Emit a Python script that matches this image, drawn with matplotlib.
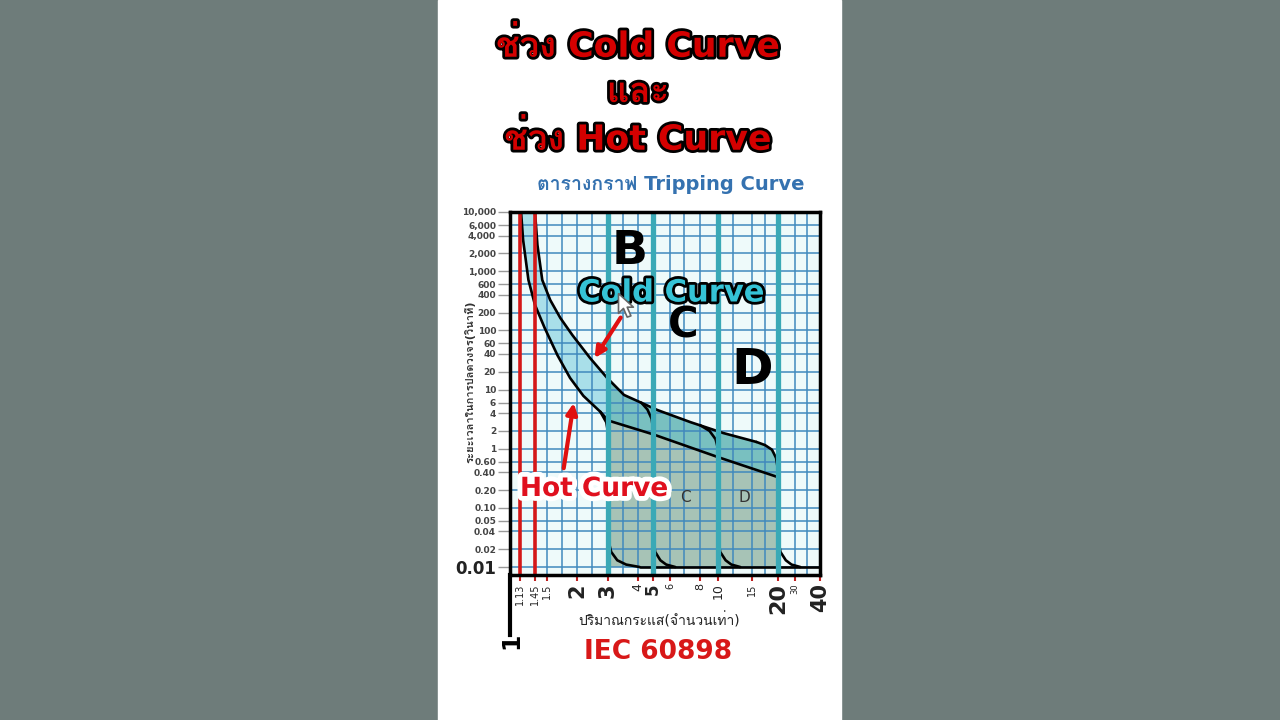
import numpy as np
import matplotlib
matplotlib.use("Agg")
import matplotlib.pyplot as plt
import matplotlib.patheffects as pe
from matplotlib import font_manager, ft2font
from matplotlib.patches import Rectangle
from matplotlib.path import Path

# pick any installed font that has Thai glyphs, used as fallback after DejaVu
thai_font = None
for fe in font_manager.fontManager.ttflist:
    try:
        cmap = ft2font.FT2Font(fe.fname).get_charmap()
    except Exception:
        continue
    if 0x0E0A in cmap and 0x0E27 in cmap and 0x0E48 in cmap:
        thai_font = fe.name
        break
fams = ['DejaVu Sans'] + ([thai_font] if thai_font else [])
plt.rcParams['font.family'] = fams

# ---- data ----
# y axis (trip time, seconds)
y_vals = [10000, 6000, 4000, 2000, 1000, 600, 400, 200, 100, 60, 40, 20, 10,
          6, 4, 2, 1, 0.6, 0.4, 0.2, 0.1, 0.06, 0.04, 0.02, 0.01]
y_labels = ['10,000', '6,000', '4,000', '2,000', '1,000', '600', '400', '200',
            '100', '60', '40', '20', '10', '6', '4', '2', '1', '0.60', '0.40',
            '0.20', '0.10', '0.05', '0.04', '0.02', '0.01']

# x axis (multiple of rated current)
x_vals = [1.13, 1.45, 1.5, 2, 3, 4, 5, 6, 8, 10, 15, 20, 30, 40]
x_labels = ['1.13', '1.45', '1.5', '2', '3', '4', '5', '6', '8', '10', '15',
            '20', '30', '40']
x_thin = [1.5, 1.75, 2, 2.5, 3.5, 4, 6, 7, 8, 12.5, 15, 17.5, 30, 35]
x_thick = [3, 5, 10, 20]
x_red = [1.13, 1.45]

# hot curve (lower) and cold curve (upper)
hot_x = np.array([1.15, 1.19, 1.30, 1.45, 1.49, 1.67, 1.88, 2.2, 2.75, 3.0, 5.0, 10.0, 20.0])
hot_t = np.array([10000, 3365, 710, 268, 110, 38, 15.7, 7.8, 4.2, 3.0, 1.75, 0.72, 0.33])
cold_x = np.array([1.45, 1.46, 1.48, 1.55, 1.72, 1.92, 2.43, 2.97, 3.53, 5.24, 7.4, 10.8, 15.8])
cold_t = np.array([10000, 2770, 710, 326, 162, 83, 34, 15.7, 8.1, 4.5, 2.8, 1.84, 1.3])

# instantaneous drops of B, C, D
dropB_lo_x = [2.75, 2.94, 3.0, 3.0]
dropB_lo_t = [4.2, 2.8, 1.9, 0.03]
dropB_x = [4.2, 4.6, 4.9, 5.0, 5.0]
dropB_t = [6.0, 4.6, 3.2, 2.2, 0.03]
dropC_x = [8.0, 9.0, 9.7, 10.0, 10.0]
dropC_t = [2.5, 2.0, 1.45, 1.0, 0.03]
dropD_x = [15.8, 17.5, 18.8, 19.6, 20.0, 20.0]
dropD_t = [1.3, 1.15, 0.96, 0.70, 0.44, 0.03]

# rounded corners at the bottom
corners_t = [0.03, 0.018, 0.013, 0.011, 0.01]
corner3_x = [3.0, 3.1, 3.3, 3.6, 4.1]
corner5_x = [5.0, 5.12, 5.41, 5.76, 6.36]
corner10_x = [10.0, 10.33, 11.2, 12.2, 13.4]
corner20_x = [20.0, 21.2, 24.1, 27.6, 32.1]

# ---- custom x scale that follows the printed (uneven) paper grid ----
scale_x = [0.5, 1, 1.13, 1.45, 1.5, 1.75, 2, 2.5, 3, 3.5, 4, 5, 6, 7, 8, 10,
           12.5, 15, 17.5, 20, 30, 35, 40, 80]
scale_p = [-60, 0, 10, 25, 37, 52, 67, 82, 98, 113, 128, 143, 160, 174, 190,
           208, 223, 242, 255, 268, 285, 297, 310, 370]
lg = np.log(scale_x)


def fwd(x):
    x = np.asarray(x, dtype=float)
    return np.interp(np.log(np.clip(x, 1e-6, None)), lg, scale_p)


def inv(p):
    return np.exp(np.interp(np.asarray(p, dtype=float), scale_p, lg))


W, H = 1280, 720
fig = plt.figure(figsize=(12.8, 7.2), dpi=100, facecolor='#6e7c7a')
fig.patches.append(Rectangle((438 / W, 0), 403 / W, 1, transform=fig.transFigure,
                             color='white', zorder=-5))


def fx(x):
    return x / W


def fy(y):
    return 1 - y / H


ax_rect = [510 / W, 1 - 575 / H, 310 / W, 363 / H]
ax = fig.add_axes(ax_rect)
ax.set_facecolor('#eefafa')
ax.set_xscale('function', functions=(fwd, inv))
ax.set_yscale('log')
ax.set_xlim(1, 40)
ax.set_ylim(0.00733, 10000)

# fills
m = hot_x <= 3.0
mc = cold_x <= 3.0
ax.fill(np.concatenate([hot_x[m], cold_x[mc][::-1]]),
        np.concatenate([hot_t[m], cold_t[mc][::-1]]),
        color='#a9dfe9', lw=0, zorder=1.5)
mh = hot_x >= 3.0
ax.fill(np.concatenate([[3.0], hot_x[mh], [20, 3.0]]),
        np.concatenate([[hot_t[mh][0]], hot_t[mh], [0.01, 0.01]]),
        color='#a7c3b6', lw=0, zorder=1.5)
mu = cold_x >= 2.97
ax.fill(np.concatenate([cold_x[mu], dropD_x[1:-1], hot_x[mh][::-1]]),
        np.concatenate([cold_t[mu], dropD_t[1:-1], hot_t[mh][::-1]]),
        color='#79c0c0', lw=0, zorder=1.6)

# paper grid
for v in y_vals:
    ax.axhline(v, color='#4089bd', lw=1.1, zorder=2)
for v in x_thin:
    ax.axvline(v, color='#4089bd', lw=1.1, zorder=2)

# curves
kw = dict(color='black', lw=1.9, zorder=2.5, solid_capstyle='round')
ax.plot(hot_x, hot_t, **kw)
ax.plot(cold_x, cold_t, **kw)
ax.plot(dropB_lo_x, dropB_lo_t, **kw)
ax.plot(dropB_x, dropB_t, **kw)
ax.plot(dropC_x, dropC_t, **kw)
ax.plot(dropD_x, dropD_t, **kw)
for cx in [corner3_x, corner5_x, corner10_x, corner20_x]:
    ax.plot(cx, corners_t, **kw)
ax.plot([corner3_x[-1], 40], [0.01, 0.01], **kw)

for v in x_thick:
    ax.axvline(v, color='#3aa9b6', lw=3.8, zorder=3)
for v in x_red:
    ax.axvline(v, color='#d41818', lw=2.6, zorder=3.2)

for s in ax.spines.values():
    s.set_linewidth(2.5)
    s.set_color('black')
    s.set_zorder(4)

# ticks
ax.set_yticks(y_vals, y_labels)
ax.yaxis.set_minor_locator(matplotlib.ticker.NullLocator())
ax.tick_params(axis='y', length=9, width=1, color='#999999', pad=1,
               labelsize=6.5, labelcolor='#444444')
for lab in ax.get_yticklabels():
    lab.set_fontweight('bold')
ax.get_yticklabels()[-1].set_fontsize(12)
ax.get_yticklabels()[-1].set_color('#222222')

ax.set_xticks(x_vals, x_labels)
ax.xaxis.set_minor_locator(matplotlib.ticker.NullLocator())
ax.tick_params(axis='x', length=4, width=1.5, color='#c02020', pad=2,
               labelrotation=90, labelcolor='#222222')
x_sizes = [7, 7, 7, 15, 15, 9, 12, 7, 8, 9, 7, 16, 6, 15]
for lab, sz in zip(ax.get_xticklabels(), x_sizes):
    lab.set_fontsize(sz)
    lab.set_fontweight('bold' if sz >= 12 else 'normal')

# extended left axis and the stray "1"
ax.plot([0, 0], [0, -0.165], transform=ax.transAxes, clip_on=False, color='black',
        lw=3, zorder=4)
ax.text(0.005, -0.18, '1', transform=ax.transAxes, rotation=90, ha='center',
        va='center', fontsize=17, fontweight='bold')

# axis titles
fig.text(fx(470), fy(382), 'ระยะเวลาในการปลดวงจร(วินาที)', rotation=90, ha='center',
         va='center', fontsize=8, fontweight='bold', color='#333333')
fig.text(fx(659), fy(620), 'ปริมาณกระแส(จำนวนเท่า)', ha='center', va='center',
         fontsize=10, color='#222222')
fig.text(fx(658), fy(652), 'IEC 60898', ha='center', va='center', fontsize=19,
         fontweight='bold', color='#d81818')
fig.text(fx(671), fy(185), 'ตารางกราฟ Tripping Curve', ha='center', va='center',
         fontsize=14, fontweight='bold', color='#3572b0')

# headline
stroke = [pe.withStroke(linewidth=4, foreground='black')]
for txt, y in [('ช่วง Cold Curve', 45), ('และ', 92), ('ช่วง Hot Curve', 138)]:
    fig.text(fx(638), fy(y), txt, ha='center', va='center', fontsize=25,
             fontweight='heavy', color='#d40000', path_effects=stroke)

# curve class letters
fig.text(fx(630), fy(252), 'B', ha='center', va='center', fontsize=34,
         fontweight='bold', color='black')
fig.text(fx(683), fy(326), 'C', ha='center', va='center', fontsize=30,
         fontweight='bold', color='black')
fig.text(fx(752), fy(370), 'D', ha='center', va='center', fontsize=36,
         fontweight='bold', color='black')
fig.text(fx(685), fy(497), 'C', ha='center', va='center', fontsize=11, color='#333333')
fig.text(fx(744), fy(497), 'D', ha='center', va='center', fontsize=11, color='#333333')

fig.text(fx(671), fy(293), 'Cold Curve', ha='center', va='center', fontsize=22,
         fontweight='bold', color='#35c3d6',
         path_effects=[pe.withStroke(linewidth=4, foreground='black')])
fig.text(fx(594), fy(489), 'Hot Curve', ha='center', va='center', fontsize=19,
         fontweight='bold', color='#e0101e',
         path_effects=[pe.withStroke(linewidth=7, foreground='white')])

# red arrows
arr = dict(arrowstyle='-|>', color='#e01010', lw=3, mutation_scale=16)
ax.annotate('', xy=(2.53, 31), xytext=(3.47, 180), arrowprops=arr, zorder=5)
ax.annotate('', xy=(1.95, 6.6), xytext=(1.77, 0.42), arrowprops=arr, zorder=5)

# mouse pointer left on the screenshot, on a transparent overlay above the texts
top = fig.add_axes(ax_rect, zorder=10)
top.set_xscale('function', functions=(fwd, inv))
top.set_yscale('log')
top.set_xlim(ax.get_xlim())
top.set_ylim(ax.get_ylim())
top.axis('off')
cursor = Path([(0, 0), (0, -16), (4, -12), (7, -19), (10, -18), (7, -11),
               (12, -11), (0, 0)])
top.plot([3.33], [430], marker=cursor, markersize=34, color='white',
         markeredgecolor='#666666', markeredgewidth=1.2, clip_on=False)

fig.savefig('out.png', dpi=100, facecolor=fig.get_facecolor())
